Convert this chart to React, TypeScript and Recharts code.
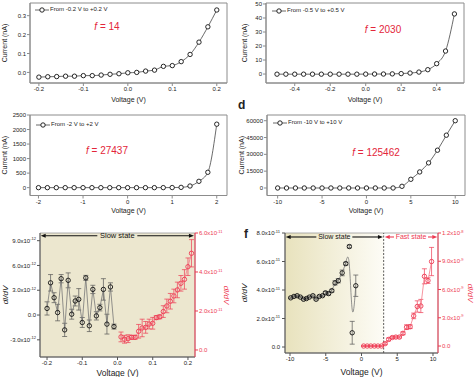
import React from 'react';
import {
  LineChart, Line, XAxis, YAxis, ReferenceArea, ReferenceLine, ErrorBar, Legend, CartesianGrid, Label,
} from 'recharts';

const FONT = '"Liberation Sans", Arial, Helvetica, sans-serif';
const RED = '#ee3a52';
const RED_LINE = '#f47a88';
const FRAME = '#8c8c8c';
const TXT = '#222';

// ---------- top-left: -0.2 V to +0.2 V ----------
const voltageA = [-0.2, -0.18, -0.16, -0.14, -0.12, -0.1, -0.08, -0.06, -0.04, -0.02, 0, 0.02, 0.04, 0.06, 0.08, 0.1, 0.12, 0.14, 0.16, 0.18, 0.2];
const currentA = [-0.025, -0.023, -0.022, -0.02, -0.02, -0.017, -0.017, -0.014, -0.01, -0.007, -0.002, 0, 0.007, 0.012, 0.032, 0.036, 0.057, 0.095, 0.16, 0.241, 0.33];
const xTicksA = [-0.2, -0.1, 0, 0.1, 0.2];
const yTicksA = [0, 0.1, 0.2, 0.3];

// ---------- top-right: -0.5 V to +0.5 V ----------
const voltageB = [-0.5, -0.45, -0.4, -0.35, -0.3, -0.25, -0.2, -0.15, -0.1, -0.05, 0, 0.05, 0.1, 0.15, 0.2, 0.25, 0.3, 0.35, 0.4, 0.45, 0.5];
const currentB = [-0.1, -0.1, -0.1, -0.1, -0.1, -0.1, -0.1, -0.1, -0.1, -0.1, -0.05, 0, 0, 0.1, 0.3, 0.7, 1.4, 3.1, 7.4, 16.4, 42.9];
const xTicksB = [-0.4, -0.2, 0, 0.2, 0.4];
const yTicksB = [0, 10, 20, 30, 40, 50];

// ---------- middle-left: -2 V to +2 V ----------
const voltageC = [-2, -1.8, -1.6, -1.4, -1.2, -1, -0.8, -0.6, -0.4, -0.2, 0, 0.2, 0.4, 0.6, 0.8, 1, 1.2, 1.4, 1.6, 1.8, 2];
const currentC = [0, 0, 0, 0, 0, 0, 0, 0, 0, 0, 0, 0, 0, 0, 1, 3, 10, 57, 218, 529, 2184];
const xTicksC = [-2, -1, 0, 1, 2];
const yTicksC = [0, 500, 1000, 1500, 2000, 2500];

// ---------- middle-right (d): -10 V to +10 V ----------
const voltageD = [-10, -9, -8, -7, -6, -5, -4, -3, -2, -1, 0, 1, 2, 3, 4, 5, 6, 7, 8, 9, 10];
const currentD = [0, 0, 0, 0, 0, 0, 0, 0, 0, 0, 0, 0, 0, 0, 1500, 7750, 14300, 22400, 33700, 47100, 60000];
const xTicksD = [-10, -5, 0, 5, 10];
const yTicksD = [0, 15000, 30000, 45000, 60000];

// ---------- bottom-left: dI/dV, slow state (left axis x1e-12, right axis x1e-11) ----------
const voltageEBlack = [-0.2, -0.19, -0.18, -0.17, -0.16, -0.15, -0.14, -0.13, -0.12, -0.11, -0.1, -0.09, -0.08, -0.07, -0.06, -0.05, -0.04, -0.03, -0.02, -0.01];
const slopeEBlack = [0.8, 3.9, 2.1, 0.3, 4.4, -1.8, 4.2, 0.1, 1.7, 1.9, -0.9, 4.5, -1.3, 3.1, -0.1, 0.9, 3.1, -1.1, 3.4, -1.4];
const errEBlack = [0.8, 1.0, 0.6, 1.0, 0.5, 0.8, 0.9, 0.6, 0.6, 1.3, 0.6, 0.3, 0.7, 0.5, 0.5, 0.4, 1.3, 1.2, 0.5, 0.3];
const voltageERed = [0.01, 0.02, 0.03, 0.04, 0.05, 0.06, 0.07, 0.08, 0.09, 0.1, 0.11, 0.12, 0.13, 0.14, 0.15, 0.16, 0.17, 0.18, 0.19, 0.2, 0.21];
const slopeERed = [0.67, 0.55, 0.58, 0.65, 0.65, 0.96, 1.13, 1.16, 1.33, 1.37, 1.66, 1.7, 1.97, 2.26, 2.5, 2.77, 3.08, 3.42, 3.62, 4.27, 4.96];
const errERed = [0.25, 0.2, 0.2, 0.1, 0.1, 0.35, 0.45, 0.3, 0.25, 0.3, 0.1, 0.1, 0.3, 0.35, 0.4, 0.35, 0.4, 0.4, 0.5, 0.45, 0.7];
const xTicksE = [-0.2, -0.1, 0, 0.1, 0.2];
const yTicksELeft = [-3, 0, 3, 6, 9];
const yTicksERight = [0, 2, 4, 6];

// ---------- bottom-right (f): slow / fast state (left x1e-11, right x1e-9) ----------
const voltageFBlack = [-9.9, -9.45, -9.0, -8.55, -8.1, -7.7, -7.3, -6.8, -6.35, -5.9, -5.45, -5.05, -4.6, -4.15, -3.7, -3.25, -2.7, -2.2, -1.7, -1.3, -0.8];
const slopeFBlack = [3.45, 3.55, 3.6, 3.5, 3.35, 3.4, 3.5, 3.6, 3.35, 3.55, 3.6, 3.8, 3.75, 3.95, 4.5, 4.65, 5.2, 5.85, 7.05, 1.0, 4.3];
const errFBlack = [0.05, 0.05, 0.05, 0.05, 0.05, 0.05, 0.05, 0.05, 0.05, 0.05, 0.05, 0.1, 0.1, 0.1, 0.15, 0.15, 0.2, 0.1, 0.1, 0.8, 0.75];
const voltageFRed = [0.3, 0.8, 1.3, 1.8, 2.3, 2.8, 3.3, 3.8, 4.3, 4.8, 5.3, 5.8, 6.3, 6.8, 7.3, 7.8, 8.3, 8.8, 9.3, 9.8];
const slopeFRed = [0, 0, 0, 0, 0, 0, 0.25, 0.7, 0.9, 0.95, 0.95, 1.35, 2.0, 2.05, 3.2, 4.2, 4.25, 7.4, 6.95, 8.97];
const errFRed = [0.05, 0.05, 0.05, 0.05, 0.05, 0.05, 0.1, 0.15, 0.1, 0.1, 0.1, 0.15, 0.25, 0.2, 0.3, 0.6, 0.7, 0.8, 0.3, 1.5];
const xTicksF = [-10, -5, 0, 5, 10];
const yTicksFLeft = [0, 2, 4, 6, 8];
const yTicksFRight = [0, 3, 6, 9, 12];

const toRows = (xs: number[], ys: number[], es?: number[]) =>
  xs.map((x, i) => ({ x, y: ys[i], e: es ? es[i] : 0 }));

function sciParts(v: number, unitExp: number) {
  if (Math.abs(v) < 1e-9) return null;
  const k = Math.floor(Math.log10(Math.abs(v)) + 1e-9);
  const mant = v / Math.pow(10, k);
  return { mant: mant.toFixed(1), exp: k + unitExp };
}

const SciTick = (props: any) => {
  const { x, y, payload, textAnchor, color, unitExp } = props;
  const p = sciParts(payload.value, unitExp);
  return (
    <text x={x} y={y} dy={2.2} textAnchor={textAnchor} fontSize={6} fill={color}>
      {p ? (
        <>
          {p.mant}x10
          <tspan dy={-2.6} fontSize={4}>{String(p.exp)}</tspan>
        </>
      ) : '0.0'}
    </text>
  );
};

const arrowShape = (text: string, color: string, gap: number, fs: number) => (p: any) => {
  const { x1, y1, x2 } = p;
  const mx = (x1 + x2) / 2;
  const L = 5;
  const h = 2;
  return (
    <g>
      <line x1={x1 + L - 0.5} y1={y1} x2={mx - gap / 2} y2={y1} stroke={color} strokeWidth={1.1} />
      <line x1={mx + gap / 2} y1={y1} x2={x2 - L + 0.5} y2={y1} stroke={color} strokeWidth={1.1} />
      <polygon points={`${x1},${y1} ${x1 + L},${y1 - h} ${x1 + L},${y1 + h}`} fill={color} />
      <polygon points={`${x2},${y1} ${x2 - L},${y1 - h} ${x2 - L},${y1 + h}`} fill={color} />
      <text x={mx} y={y1} dy={2.5} textAnchor="middle" fontSize={fs} fill={color}>{text}</text>
    </g>
  );
};

const legendContent = (text: string) => () => (
  <div style={{ display: 'flex', alignItems: 'center', fontSize: 6, lineHeight: '7px', color: TXT, whiteSpace: 'nowrap' }}>
    <svg width={14} height={6} style={{ display: 'block' }}>
      <line x1={0} y1={3} x2={14} y2={3} stroke="#444" strokeWidth={0.8} />
      <circle cx={7} cy={3} r={2.2} fill="#fff" stroke="#111" strokeWidth={0.9} />
    </svg>
    <span style={{ marginLeft: 1 }}>{text}</span>
  </div>
);

const tickStyle = { fontSize: 6, fill: TXT };
const titleStyle = { fontSize: 7, fill: TXT };

type IVProps = {
  left: number; top: number; width: number; height: number;
  mTop: number; mRight: number; yWidth: number; xHeight: number;
  xDomain: [number, number]; xTicks: number[]; xFmt: (v: number) => string;
  yDomain: [number, number]; yTicks: number[]; yFmt: (v: number) => string;
  rows: { x: number; y: number }[];
  legend: string; legendLeft: number; legendTop: number;
  yLabelOffset: number; xLabelOffset: number;
};

function IVPanel(p: IVProps) {
  return (
    <div style={{ position: 'absolute', left: p.left, top: p.top }}>
      <LineChart width={p.width} height={p.height} margin={{ top: p.mTop, right: p.mRight, bottom: 0, left: 0 }}>
        <XAxis type="number" dataKey="x" domain={p.xDomain} ticks={p.xTicks} allowDataOverflow height={p.xHeight}
          tickSize={3} tickMargin={1} stroke={FRAME} tick={tickStyle} tickFormatter={p.xFmt}>
          <Label value="Voltage (V)" position="insideBottom" offset={p.xLabelOffset} style={titleStyle} />
        </XAxis>
        <YAxis type="number" domain={p.yDomain} ticks={p.yTicks} allowDataOverflow width={p.yWidth}
          tickSize={3} tickMargin={1} stroke={FRAME} tick={tickStyle} tickFormatter={p.yFmt}>
          <Label value="Current (nA)" angle={-90} position="insideLeft" offset={p.yLabelOffset}
            style={{ ...titleStyle, textAnchor: 'middle' }} />
        </YAxis>
        <ReferenceArea x1={p.xDomain[0]} x2={p.xDomain[1]} y1={p.yDomain[0]} y2={p.yDomain[1]}
          fill="none" stroke={FRAME} strokeWidth={1} ifOverflow="visible" />
        <Line data={p.rows} dataKey="y" type="monotone" stroke="#444" strokeWidth={0.8}
          dot={{ r: 2.2, stroke: '#111', strokeWidth: 0.9, fill: '#fff' }} isAnimationActive={false} />
        <Legend layout="horizontal" verticalAlign="middle" content={legendContent(p.legend)}
          wrapperStyle={{ left: p.legendLeft, top: p.legendTop, width: 'auto', height: 'auto' }} />
      </LineChart>
    </div>
  );
}

const fLabel = (value: string, cx: number, cy: number) => (
  <div style={{
    position: 'absolute', left: cx, top: cy, transform: 'translate(-50%, -50%)', color: '#e3263a',
    fontSize: 10, whiteSpace: 'nowrap', lineHeight: '10px',
  }}>
    <i>f</i> = {value}
  </div>
);

const panelLetter = (t: string, x: number, y: number) => (
  <div style={{ position: 'absolute', left: x, top: y, fontSize: 12, fontWeight: 'bold', color: '#222', lineHeight: '12px' }}>{t}</div>
);

export default function App() {
  const f1 = (v: number) => v.toFixed(1);
  const f0 = (v: number) => String(v);
  return (
    <div style={{ position: 'absolute', left: 0, top: 0, width: 474, height: 377, background: '#fff', fontFamily: FONT, overflow: 'hidden' }}>
      <IVPanel left={0} top={0} width={237} height={108} mTop={3} mRight={10} yWidth={30} xHeight={25}
        xDomain={[-0.22, 0.223]} xTicks={xTicksA} xFmt={f1} yDomain={[-0.056, 0.367]} yTicks={yTicksA} yFmt={f1}
        rows={toRows(voltageA, currentA)} legend="From -0.2 V to +0.2 V" legendLeft={35} legendTop={6}
        yLabelOffset={5} xLabelOffset={6} />
      <IVPanel left={237} top={0} width={237} height={108} mTop={3} mRight={10} yWidth={29} xHeight={25}
        xDomain={[-0.562, 0.554]} xTicks={xTicksB} xFmt={f1} yDomain={[-6.4, 50.7]} yTicks={yTicksB} yFmt={f0}
        rows={toRows(voltageB, currentB)} legend="From -0.5 V to +0.5 V" legendLeft={35} legendTop={7}
        yLabelOffset={8} xLabelOffset={6} />
      <IVPanel left={0} top={108} width={237} height={110} mTop={7} mRight={10} yWidth={30} xHeight={22.5}
        xDomain={[-2.19, 2.23]} xTicks={xTicksC} xFmt={f0} yDomain={[-270, 2500]} yTicks={yTicksC} yFmt={f0}
        rows={toRows(voltageC, currentC)} legend="From -2 V to +2 V" legendLeft={36} legendTop={13}
        yLabelOffset={4.5} xLabelOffset={5} />
      <IVPanel left={237} top={108} width={237} height={110} mTop={7} mRight={9} yWidth={30} xHeight={22.5}
        xDomain={[-11.2, 11.1]} xTicks={xTicksD} xFmt={f0} yDomain={[-6700, 65100]} yTicks={yTicksD} yFmt={f0}
        rows={toRows(voltageD, currentD)} legend="From -10 V to +10 V" legendLeft={36} legendTop={11}
        yLabelOffset={4.5} xLabelOffset={5} />

      {fLabel('14', 107, 27)}
      {fLabel('2030', 383, 30)}
      {fLabel('27437', 107, 151)}
      {fLabel('125462', 376, 153)}
      {panelLetter('d', 238, 99)}

      {/* bottom-left */}
      <div style={{ position: 'absolute', left: 0, top: 218 }}>
        <LineChart width={237} height={159} margin={{ top: 15, right: 0, bottom: 0, left: 0 }}>
          <CartesianGrid yAxisId="l" horizontal={false} vertical={false} fill="#ece7cf" fillOpacity={1} />
          <XAxis type="number" dataKey="x" domain={[-0.22, 0.22]} ticks={xTicksE} allowDataOverflow height={20}
            tickSize={3} tickMargin={1} stroke="#555" tick={tickStyle} tickFormatter={f1}>
            <Label value="Voltage (V)" position="insideBottom" offset={1} style={{ fontSize: 8.5, fill: TXT }} />
          </XAxis>
          <YAxis yAxisId="l" type="number" domain={[-5.08, 9.93]} ticks={yTicksELeft} allowDataOverflow width={40}
            tickSize={3} tickMargin={1} stroke="#555"
            tick={(tp: any) => <SciTick {...tp} color={TXT} unitExp={-12} />}>
            <Label value="dI/dV" angle={-90} position="insideLeft" offset={5}
              style={{ fontSize: 8, fill: TXT, fontStyle: 'italic', textAnchor: 'middle' }} />
          </YAxis>
          <YAxis yAxisId="r" orientation="right" type="number" domain={[-0.36, 6]} ticks={yTicksERight} allowDataOverflow
            width={42} tickSize={3} tickMargin={1} stroke={RED}
            tick={(tp: any) => <SciTick {...tp} color={RED} unitExp={-11} />}>
            <Label value="dI/dV" angle={90} position="insideRight" offset={10}
              style={{ fontSize: 8, fill: RED, fontStyle: 'italic', textAnchor: 'middle' }} />
          </YAxis>
          <ReferenceArea yAxisId="l" x1={-0.22} x2={0.22} y1={-5.08} y2={9.93} fill="none" stroke="#9a9a9a"
            strokeWidth={0.8} ifOverflow="visible" />
          <ReferenceLine yAxisId="l" segment={[{ x: -0.218, y: 9.6 }, { x: 0.217, y: 9.6 }]} ifOverflow="visible"
            shape={arrowShape('Slow state', '#111', 40, 7.5)} />
          <Line yAxisId="l" data={toRows(voltageEBlack, slopeEBlack, errEBlack)} dataKey="y" type="linear"
            stroke="#777" strokeWidth={0.8} dot={{ r: 2.2, stroke: '#111', strokeWidth: 0.9, fill: 'none' }}
            isAnimationActive={false}>
            <ErrorBar dataKey="e" width={2.5} stroke="#555" strokeWidth={0.7} />
          </Line>
          <Line yAxisId="r" data={toRows(voltageERed, slopeERed, errERed)} dataKey="y" type="linear"
            stroke={RED_LINE} strokeWidth={0.8} dot={{ r: 2.2, stroke: RED, strokeWidth: 0.9, fill: 'none' }}
            isAnimationActive={false}>
            <ErrorBar dataKey="e" width={2.5} stroke={RED} strokeWidth={0.7} />
          </Line>
        </LineChart>
      </div>

      {/* bottom-right (f) */}
      <div style={{ position: 'absolute', left: 237, top: 218 }}>
        <LineChart width={237} height={159} margin={{ top: 15, right: 0, bottom: 0, left: 0 }}>
          <defs>
            <linearGradient id="slowGrad" x1="0" y1="0" x2="1" y2="0">
              <stop offset="0" stopColor="#e8e2bd" />
              <stop offset="0.646" stopColor="#fdfcf6" />
              <stop offset="0.646" stopColor="#ffffff" />
              <stop offset="1" stopColor="#ffffff" />
            </linearGradient>
          </defs>
          <CartesianGrid yAxisId="l" horizontal={false} vertical={false} fill="url(#slowGrad)" fillOpacity={1} />
          <XAxis type="number" dataKey="x" domain={[-10.7, 10.7]} ticks={xTicksF} allowDataOverflow height={24}
            tickSize={3} tickMargin={1} stroke="#555" tick={tickStyle} tickFormatter={f0}>
            <Label value="Voltage (V)" position="insideBottom" offset={2} style={{ fontSize: 8.5, fill: TXT }} />
          </XAxis>
          <YAxis yAxisId="l" type="number" domain={[-0.42, 8]} ticks={yTicksFLeft} allowDataOverflow width={48}
            tickSize={3} tickMargin={2} stroke="#555"
            tick={(tp: any) => <SciTick {...tp} color={TXT} unitExp={-11} />}>
            <Label value="dI/dV" angle={-90} position="insideLeft" offset={7}
              style={{ fontSize: 8, fill: TXT, fontStyle: 'italic', textAnchor: 'middle' }} />
          </YAxis>
          <YAxis yAxisId="r" orientation="right" type="number" domain={[-0.74, 12]} ticks={yTicksFRight} allowDataOverflow
            width={36} tickSize={3} tickMargin={1} stroke={RED}
            tick={(tp: any) => <SciTick {...tp} color={RED} unitExp={-9} />}>
            <Label value="dI/dV" angle={90} position="insideRight" offset={3}
              style={{ fontSize: 8, fill: RED, fontStyle: 'italic', textAnchor: 'middle' }} />
          </YAxis>
          <ReferenceArea yAxisId="l" x1={-10.7} x2={10.7} y1={-0.42} y2={8} fill="none" stroke="#9a9a9a"
            strokeWidth={0.8} ifOverflow="visible" />
          <ReferenceLine yAxisId="l" x={3.1} stroke="#333" strokeWidth={0.8} strokeDasharray="2 1.5" />
          <ReferenceLine yAxisId="l" segment={[{ x: -10.6, y: 7.72 }, { x: 3.0, y: 7.72 }]} ifOverflow="visible"
            shape={arrowShape('Slow state', '#111', 36, 7)} />
          <ReferenceLine yAxisId="l" segment={[{ x: 3.25, y: 7.72 }, { x: 10.6, y: 7.72 }]} ifOverflow="visible"
            shape={arrowShape('Fast state', RED, 34, 7)} />
          <Line yAxisId="l" data={toRows(voltageFBlack, slopeFBlack, errFBlack)} dataKey="y" type="basis"
            stroke="#777" strokeWidth={0.8} dot={{ r: 2.2, stroke: '#111', strokeWidth: 0.9, fill: 'none' }}
            isAnimationActive={false}>
            <ErrorBar dataKey="e" width={2.5} stroke="#555" strokeWidth={0.7} />
          </Line>
          <Line yAxisId="r" data={toRows(voltageFRed, slopeFRed, errFRed)} dataKey="y" type="linear"
            stroke={RED_LINE} strokeWidth={0.8} dot={{ r: 2.2, stroke: RED, strokeWidth: 0.9, fill: 'none' }}
            isAnimationActive={false}>
            <ErrorBar dataKey="e" width={2.5} stroke={RED} strokeWidth={0.7} />
          </Line>
        </LineChart>
      </div>
      {panelLetter('f', 244, 228)}
    </div>
  );
}
